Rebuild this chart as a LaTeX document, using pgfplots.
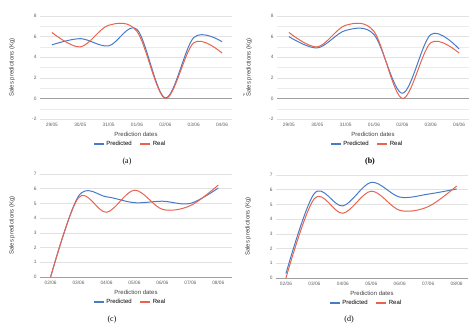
\documentclass[border=0pt]{standalone}
\usepackage{fontspec}
\setmainfont{Liberation Sans}
\newfontfamily\capfont{Liberation Serif}
\usepackage{pgfplots}
\usepackage{pgfplotstable}
\pgfplotsset{compat=1.18}

\definecolor{predblue}{RGB}{72,122,200}
\definecolor{realred}{RGB}{232,100,78}
\definecolor{gridgray}{RGB}{226,226,226}
\definecolor{ticktext}{RGB}{95,95,95}

% sales predictions, one table per panel: index, predicted, real
\pgfplotstableread{
x pred real
0 5.2  6.4
1 5.8  5.0
2 5.1  7.1
3 6.7  6.5
4 0.05 0.0
5 5.9  5.4
6 5.5  4.4
}\tabA
\pgfplotstableread{
x pred real
0 6.0 6.4
1 4.9 5.0
2 6.6 7.1
3 6.2 6.5
4 0.5 0.0
5 6.2 5.4
6 4.8 4.4
}\tabB
\pgfplotstableread{
x pred real
0 0.0  0.0
1 5.5  5.4
2 5.45 4.4
3 5.05 5.9
4 5.15 4.6
5 5.0  4.85
6 6.05 6.25
}\tabC
\pgfplotstableread{
x pred real
0 0.3  0.0
1 5.75 5.4
2 4.9  4.4
3 6.5  5.9
4 5.5  4.6
5 5.7  4.85
6 6.05 6.25
}\tabD

\pgfplotsset{
  salesaxis/.style={
    scale only axis, width=192pt, height=103pt,
    axis line style={draw=none},
    tick style={draw=none},
    ymajorgrids, grid style={gridgray, line width=0.5pt},
    tick label style={font=\fontsize{4.8}{5}\selectfont, text=ticktext},
    /pgf/number format/assume math mode=true,
    xtick={0,...,6},
    xlabel={Prediction dates},
    ylabel={Sales predictions (Kg)},
    label style={font=\fontsize{6}{7}\selectfont, text=black!75},
    xlabel style={at={(axis description cs:0.5,-0.146)}, anchor=center},
    ylabel style={at={(axis description cs:-0.146,0.5)}, anchor=center},
    legend columns=2,
    legend style={draw=none, fill=none, font=\fontsize{6}{7}\selectfont,
      anchor=center, at={(axis description cs:0.47,-0.243)},
      /tikz/every even column/.append style={column sep=6pt}},
    legend image code/.code={\draw[##1, line width=1.1pt] (0pt,0pt) -- (10pt,0pt);},
    every axis plot/.append style={line width=1pt, smooth, tension=0.55, no markers},
    extra y ticks={0}, extra y tick labels={},
    extra y tick style={grid style={gray!75, line width=0.6pt}},
  },
  ranges1/.style={ymin=-2, ymax=8, ytick={-2,0,...,8},
    minor ytick={-1,1,...,7}, yminorgrids, minor grid style={gridgray!70, line width=0.4pt},
    xmin=-0.42, xmax=6.35,
    xticklabels={29/05,30/05,31/05,01/06,02/06,03/06,04/06}},
  ranges2/.style={ymin=0, ymax=7, ytick={0,...,7},
    xmin=-0.38, xmax=6.49,
    xticklabels={02/06,03/06,04/06,05/06,06/06,07/06,08/06}},
}

\begin{document}
\begin{tikzpicture}
\path[use as bounding box] (0,0) rectangle (474pt,330pt);

% (a)
\begin{axis}[salesaxis, ranges1, at={(40pt,211pt)}, anchor=south west]
  \addplot[predblue] table[x=x, y=pred] {\tabA};
  \addplot[realred] table[x=x, y=real] {\tabA};
  \legend{Predicted, Real}
\end{axis}
\node[font=\capfont\fontsize{8}{9}\selectfont] at (127pt,168pt) {(a)};

% (b)
\begin{axis}[salesaxis, ranges1, at={(277pt,211pt)}, anchor=south west]
  \addplot[predblue] table[x=x, y=pred] {\tabB};
  \addplot[realred] table[x=x, y=real] {\tabB};
  \legend{Predicted, Real}
\end{axis}
\node[font=\fontsize{3.5}{4}\selectfont, text=black!70] at (244pt,235pt) {P};
\node[font=\capfont\bfseries\fontsize{8}{9}\selectfont] at (370pt,168pt) {(b)};

% (c)
\begin{axis}[salesaxis, ranges2, at={(40pt,53pt)}, anchor=south west]
  \addplot[predblue] table[x=x, y=pred] {\tabC};
  \addplot[realred] table[x=x, y=real] {\tabC};
  \legend{Predicted, Real}
\end{axis}
\node[font=\capfont\fontsize{8}{9}\selectfont] at (112pt,10pt) {(c)};

% (d)
\begin{axis}[salesaxis, ranges2, at={(276pt,52pt)}, anchor=south west,
  xmin=-0.35, xmax=6.4]
  \addplot[predblue] table[x=x, y=pred] {\tabD};
  \addplot[realred] table[x=x, y=real] {\tabD};
  \legend{Predicted, Real}
\end{axis}
\node[font=\capfont\fontsize{8}{9}\selectfont] at (349pt,10pt) {(d)};
\end{tikzpicture}
\end{document}
